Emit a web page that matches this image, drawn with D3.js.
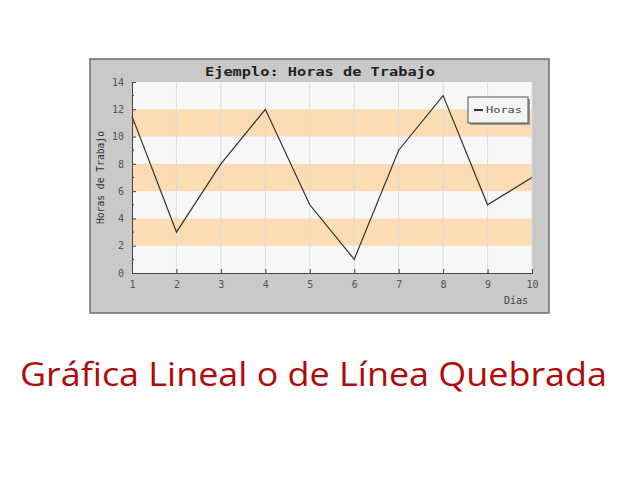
<!DOCTYPE html>
<html>
<head>
<meta charset="utf-8">
<script src="https://cdn.jsdelivr.net/npm/d3@7"></script>
<style>
  body { margin: 0; background: #fff; }
  svg { display: block; }
</style>
</head>
<body>
<svg id="chart" width="638" height="479"></svg>
<script>
/* global d3 */

let dias = [1, 2, 3, 4, 5, 6, 7, 8, 9, 10]
let horas = [11.5, 3, 8, 12, 5, 1, 9, 13, 5, 7]
let yTicks = [0, 2, 4, 6, 8, 10, 12, 14]
let bandas = [[2, 4], [6, 8], [10, 12]]
let titulo = 'Ejemplo: Horas de Trabajo'
let serie = 'Horas'
let pie = 'Gráfica Lineal o de Línea Quebrada'

let svg = d3.select('#chart')
let box = {x: 90, y: 59, w: 459, h: 254}
let plot = {l: 132, r: 532, t: 82, b: 273}

let x = d3.scaleLinear().domain([1, 10]).range([plot.l, plot.r])
let y = d3.scaleLinear().domain([0, 14]).range([plot.b, plot.t])

// outer frame
svg.append('rect')
  .attr('x', box.x)
  .attr('y', box.y)
  .attr('width', box.w)
  .attr('height', box.h)
  .attr('fill', '#c9c9c9')
  .attr('stroke', '#6e6e6e')
  .attr('stroke-width', 1.5)

// plot background + bands
svg.append('rect')
  .attr('x', plot.l)
  .attr('y', plot.t)
  .attr('width', plot.r - plot.l)
  .attr('height', plot.b - plot.t)
  .attr('fill', '#f7f7f9')

svg.selectAll('rect.banda')
  .data(bandas)
  .enter().append('rect')
  .attr('class', 'banda')
  .attr('x', plot.l)
  .attr('y', d => y(d[1]))
  .attr('width', plot.r - plot.l)
  .attr('height', d => y(d[0]) - y(d[1]))
  .attr('fill', '#fcdcb2')

// vertical grid
svg.selectAll('line.grid')
  .data(dias.slice(1))
  .enter().append('line')
  .attr('class', 'grid')
  .attr('x1', d => x(d))
  .attr('x2', d => x(d))
  .attr('y1', plot.t)
  .attr('y2', plot.b)
  .attr('stroke', '#dcdcdc')
  .attr('stroke-width', 1)

// axes
let yAxis = d3.axisLeft(y).tickValues(yTicks).tickSize(-4).tickPadding(8)
let gy = svg.append('g')
  .attr('transform', 'translate(' + plot.l + ',0)')
  .call(yAxis)
gy.selectAll('g.minor')
  .data(d3.range(1, 14, 2))
  .enter().append('line')
  .attr('x1', 0)
  .attr('x2', 2)
  .attr('y1', d => y(d))
  .attr('y2', d => y(d))
  .attr('stroke', '#444')

let xAxis = d3.axisBottom(x).tickValues(dias).tickSize(-4).tickPadding(8)
svg.append('g')
  .attr('transform', 'translate(0,' + plot.b + ')')
  .call(xAxis)

svg.selectAll('.domain').attr('stroke', '#444')
svg.selectAll('.tick line').attr('stroke', '#444')
svg.selectAll('.tick text')
  .style('font-family', 'DejaVu Sans Mono')
  .style('font-size', '10px')
  .attr('fill', '#555')

// line
let linea = d3.line()
  .x((d, i) => x(dias[i]))
  .y(d => y(d))

svg.append('path')
  .datum(horas)
  .attr('d', linea)
  .attr('fill', 'none')
  .attr('stroke', '#333')
  .attr('stroke-width', 1.2)

// title
svg.append('text')
  .text(titulo)
  .attr('x', 320)
  .attr('y', 76)
  .attr('text-anchor', 'middle')
  .attr('textLength', 230)
  .attr('lengthAdjust', 'spacingAndGlyphs')
  .style('font-family', 'DejaVu Sans Mono')
  .style('font-weight', 'bold')
  .style('font-size', '12px')
  .attr('fill', '#222')

// axis titles
svg.append('text')
  .text('Horas de Trabajo')
  .attr('transform', 'translate(104,' + ((plot.t + plot.b) / 2) + ') rotate(-90)')
  .attr('text-anchor', 'middle')
  .attr('textLength', 93)
  .attr('lengthAdjust', 'spacingAndGlyphs')
  .style('font-family', 'DejaVu Sans Mono')
  .style('font-size', '10px')
  .attr('fill', '#333')

svg.append('text')
  .text('Días')
  .attr('x', 528)
  .attr('y', 304)
  .attr('text-anchor', 'end')
  .style('font-family', 'DejaVu Sans Mono')
  .style('font-size', '10px')
  .attr('fill', '#444')

// legend
let lg = svg.append('g').attr('transform', 'translate(468,97)')
lg.append('rect')
  .attr('x', 2)
  .attr('y', 2)
  .attr('width', 60)
  .attr('height', 26)
  .attr('fill', '#999')
lg.append('rect')
  .attr('x', 0)
  .attr('y', 0)
  .attr('width', 60)
  .attr('height', 26)
  .attr('fill', '#f4f4f4')
  .attr('stroke', '#555')
  .attr('stroke-width', 1)
lg.append('line')
  .attr('x1', 6)
  .attr('x2', 15)
  .attr('y1', 13)
  .attr('y2', 13)
  .attr('stroke', '#333')
  .attr('stroke-width', 2)
lg.append('text')
  .text(serie)
  .attr('x', 18)
  .attr('y', 16)
  .attr('textLength', 36)
  .attr('lengthAdjust', 'spacingAndGlyphs')
  .style('font-family', 'DejaVu Sans Mono')
  .style('font-size', '9px')
  .attr('fill', '#444')

// caption
svg.append('text')
  .text(pie)
  .attr('x', 20)
  .attr('y', 386)
  .attr('textLength', 587)
  .attr('lengthAdjust', 'spacingAndGlyphs')
  .style('font-family', 'Open Sans')
  .style('font-size', '33px')
  .attr('fill', '#b00a0a')
</script>
</body>
</html>
